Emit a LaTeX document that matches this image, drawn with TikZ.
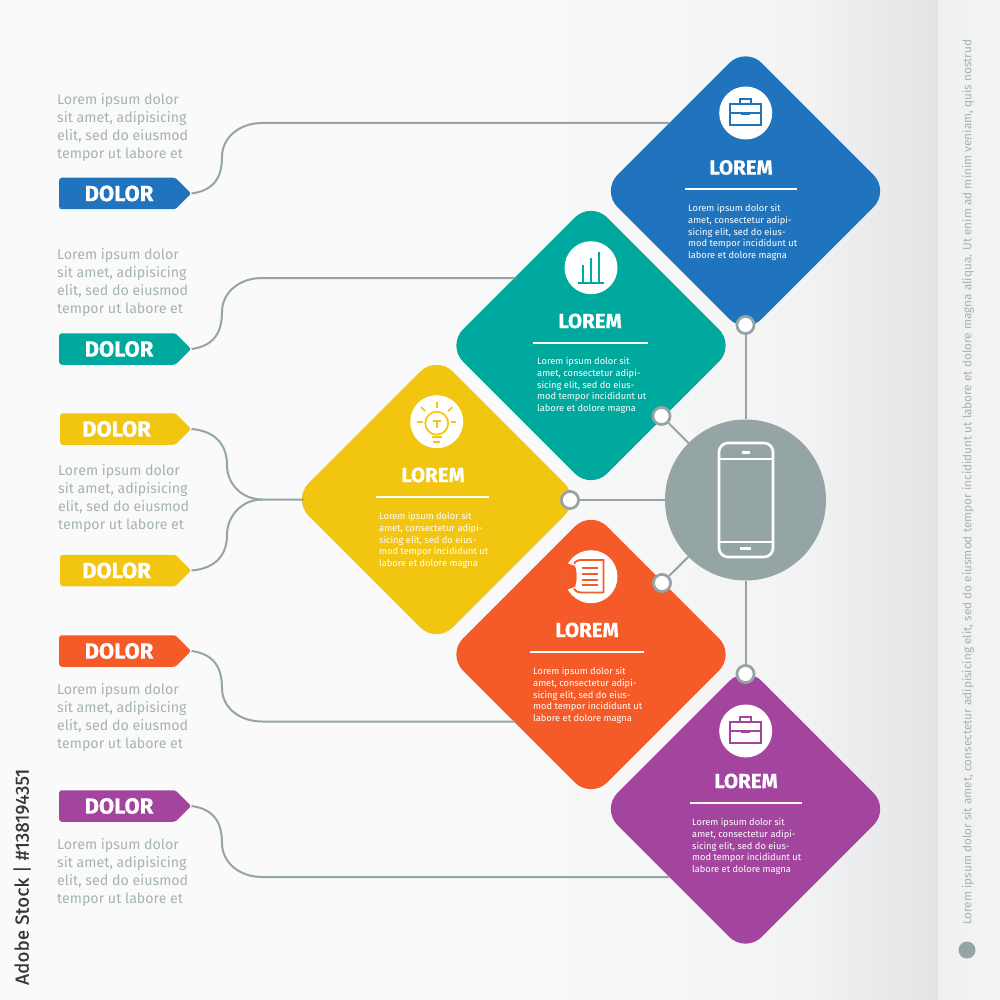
\documentclass[tikz,border=0pt]{standalone}
\usepackage{fontspec}
\setmainfont{Fira Sans}
\usetikzlibrary{shapes.geometric,shapes.symbols,calc}
\definecolor{cblue}{HTML}{1F74BD}
\definecolor{cteal}{HTML}{00A99D}
\definecolor{cyel}{HTML}{F2C511}
\definecolor{cora}{HTML}{F55B28}
\definecolor{cpur}{HTML}{A3459E}
\definecolor{cgray}{HTML}{95A5A5}
\definecolor{ctxt}{HTML}{A5B3B3}
\definecolor{bgA}{HTML}{FAFAFA}
\definecolor{bgM}{HTML}{F3F3F4}
\definecolor{bgB}{HTML}{E3E4E6}
\definecolor{stripA}{HTML}{EFF0F1}
\definecolor{stripB}{HTML}{F3F3F4}
\tikzset{
  dia/.style={diamond,aspect=1,minimum width=288.5pt,minimum height=288.5pt,inner sep=0pt,rounded corners=23pt,fill=#1},
  tagbox/.style={signal,signal to=east,signal from=nowhere,signal pointer angle=90,minimum height=31.5pt,minimum width=#1,inner sep=0pt,rounded corners=2.5pt,anchor=east},
  tagtext/.style={text=white,font=\fontsize{22}{22}\selectfont\bfseries\addfontfeature{FakeBold=0.8}},
  conn/.style={draw=cgray,line width=2pt},
  dot/.style={circle,draw=cgray,line width=2.6pt,fill=white,minimum size=17pt,inner sep=0pt},
  iconbg/.style={circle,fill=white,minimum size=53pt,inner sep=0pt},
  head/.style={text=white,font=\fontsize{20.5}{20.5}\selectfont\bfseries\addfontfeature{FakeBold=0.4}},
  rule/.style={draw=white,line width=1.6pt},
  body/.style={text=white,anchor=north west,inner sep=0pt,align=left,font=\fontsize{9.3}{11.6}\selectfont},
  side/.style={text=ctxt,anchor=north west,inner sep=0pt,align=left,font=\fontsize{14.2}{18}\selectfont},
  ico/.style={line width=2pt,line cap=butt},
}
\newcommand{\loremside}{Lorem ipsum dolor\\sit amet, adipisicing\\elit, sed do eiusmod\\tempor ut labore et}
\newcommand{\lorembody}{Lorem ipsum dolor sit\\amet, consectetur adipi-\\sicing elit, sed do eius-\\mod tempor incididunt ut\\labore et dolore magna}
\newcommand{\briefcase}[3]{%
  \begin{scope}[shift={(#1,#2)}]
    \draw[ico,draw=#3] (-15.5,-9) rectangle (15.5,12);
    \draw[ico,draw=#3] (-5.5,-9) -- (-5.5,-14) -- (5.5,-14) -- (5.5,-9);
    \draw[ico,draw=#3] (-15.5,0) -- (15.5,0);
    \draw[ico,draw=#3,line width=1.5pt] (-4,0) -- (-4,1.5) -- (4,1.5) -- (4,0);
  \end{scope}}
\begin{document}
\begin{tikzpicture}[x=1pt,y=-1pt]
\useasboundingbox (0,0) rectangle (1000,1000);
% background
\fill[bgA] (0,0) rectangle (500,1000);
\shade[left color=bgA,right color=bgM] (500,0) rectangle (800.5,1000);
\shade[left color=bgM,right color=bgB] (800,0) rectangle (938,1000);
\shade[left color=stripA,right color=stripB] (938,0) rectangle (1000,1000);

% diamonds
\node[dia=cblue] (blue) at (745.5,191) {};
\node[dia=cteal] (teal) at (591,345.5) {};
\node[dia=cyel] (yel) at (436.5,499.5) {};
\node[dia=cora] (ora) at (591,654.5) {};
\node[dia=cpur] (pur) at (745.5,809) {};

% tags
\node[tagbox=132pt,fill=cblue] (tagA) at (191.5,193.5) {};
\node[tagbox=132pt,fill=cteal] (tagB) at (191.5,349) {};
\node[tagbox=131pt,fill=cyel] (tagC) at (191.5,429) {};
\node[tagbox=131pt,fill=cyel] (tagD) at (191.5,570.5) {};
\node[tagbox=132pt,fill=cora] (tagE) at (191.5,651) {};
\node[tagbox=132pt,fill=cpur] (tagF) at (191.5,806) {};
\node[tagtext] (tagtA) at (119,193.5) {DOLOR};
\node[tagtext] (tagtB) at (119,349) {DOLOR};
\node[tagtext] (tagtC) at (116.5,429) {DOLOR};
\node[tagtext] (tagtD) at (116.5,570.5) {DOLOR};
\node[tagtext] (tagtE) at (119,651) {DOLOR};
\node[tagtext] (tagtF) at (119,806) {DOLOR};

% side texts
\node[side] (sA) at (57,93.5) {\loremside};
\node[side] (sB) at (57,248.5) {\loremside};
\node[side] (sC) at (58,464.5) {\loremside};
\node[side] (sE) at (57,683.5) {\loremside};
\node[side] (sF) at (57,838.5) {\loremside};

% hub
\node[circle,fill=cgray,minimum size=161pt,inner sep=0pt] (hub) at (745.5,500) {};
\node[dot] (d1) at (745.5,325) {};
\node[dot] (d2) at (661.5,416) {};
\node[dot] (d3) at (570,500) {};
\node[dot] (d4) at (662,583) {};
\node[dot] (d5) at (745.5,674) {};

% connectors
\begin{scope}[every path/.style={conn}]
\draw (d1) -- (hub);
\draw (d2) -- (hub);
\draw (d3) -- (hub);
\draw (d4) -- (hub);
\draw (d5) -- (hub);
\draw (tagA.east) .. controls +(22,-3) and (222,178) .. (222,157) .. controls (222,137) and (240,123) .. (262,123) -- ($(blue.center)+(-76,-68)$);
\draw (tagB.east) .. controls +(22,-3) and (222,333) .. (222,312) .. controls (222,292) and (240,278) .. (262,278) -- ($(teal.center)+(-76,-67.5)$);
\draw (tagE.east) .. controls +(22,3) and (222,667) .. (222,688) .. controls (222,708) and (240,721.5) .. (262,721.5) -- ($(ora.center)+(-76,67)$);
\draw (tagF.east) .. controls +(22,3) and (222,822) .. (222,843) .. controls (222,863) and (240,877) .. (262,877) -- ($(pur.center)+(-76,68)$);
\draw (tagC.east) .. controls +(24,2) and (227,445) .. (227,465) .. controls (227,485) and (243,499.5) .. (262,499.5) -- ($(yel.west)+(12,0)$);
\draw (tagD.east) .. controls +(24,-2) and (227,555) .. (227,535) .. controls (227,515) and (243,499.5) .. (262,499.5);
\end{scope}
\node[dot] at (d1) {};
\node[dot] at (d2) {};
\node[dot] at (d3) {};
\node[dot] at (d4) {};
\node[dot] at (d5) {};

% phone
\draw[white,line width=2.6pt,rounded corners=9pt] (719,443) rectangle (773,557);
\draw[white,line width=2.2pt] (719,459) -- (773,459);
\draw[white,line width=2.2pt] (719,542) -- (773,542);
\fill[white] (742,450.5) rectangle (749.5,453.5);
\fill[white] (740,546.5) rectangle (751,549.5);

% icons backgrounds
\node[iconbg] (iA) at (745.7,113) {};
\node[iconbg] (iB) at (591,267.7) {};
\node[iconbg] (iC) at (436.7,421.7) {};
\node[iconbg] (iD) at (591,576.7) {};
\node[iconbg] (iE) at (745.7,731) {};
\briefcase{745.7}{113}{cblue}
\briefcase{745.7}{731}{cpur}
% bars
\draw[cteal,line width=1.8pt] (577.7,282.7) -- (604.3,282.7);
\draw[cteal,line width=2pt] (582.7,282.7) -- (582.7,265);
\draw[cteal,line width=2pt] (591,282.7) -- (591,258);
\draw[cteal,line width=2pt] (599.3,282.7) -- (599.3,252);
% bulb
\begin{scope}[shift={(436.7,421.7)}]
\draw[cyel,line width=1.7pt] (0,1.5) circle (11.5);
\draw[cyel,line width=1.7pt] (-4,-1) -- (4,-1);
\draw[cyel,line width=1.7pt] (0,-1) -- (0,6);
\draw[cyel,line width=1.7pt] (-5,15.5) -- (5,15.5);
\draw[cyel,line width=1.7pt] (-3.5,20) -- (3.5,20);
\draw[cyel,line width=1.7pt] (0,-19.5) -- (0,-14);
\draw[cyel,line width=1.7pt] (-15.5,-14.5) -- (-11.5,-10.5);
\draw[cyel,line width=1.7pt] (15.5,-14.5) -- (11.5,-10.5);
\draw[cyel,line width=1.7pt] (-19.5,0.5) -- (-14,0.5);
\draw[cyel,line width=1.7pt] (19.5,0.5) -- (14,0.5);
\end{scope}
% document icon
\begin{scope}[shift={(591,576.7)}]
\begin{scope}
\clip (0,0) circle (27);
\fill[cora] (-24,-13.3) -- (-16,-11) .. controls (-14.8,-7) and (-14.3,-4) .. (-14.3,0) .. controls (-14.3,4) and (-14.8,7) .. (-16,10) -- (-24,13) -- (-28,13) -- (-28,-13.3) -- cycle;
\end{scope}
\draw[cora,line width=1.8pt] (-17,-13) .. controls (-15,-16) and (-13,-16.7) .. (-10.5,-16.7) -- (12.5,-16.7) -- (12.5,15.7) -- (-10.5,15.7) .. controls (-13,15.7) and (-15,15) .. (-17,12);
\foreach \yy in {-8.4,-2.7,3.1,8.3}{\draw[cora,line width=1.8pt] (-9.3,\yy) -- (6.7,\yy);}
\end{scope}

% card text
\node[head] (hA) at (741,167.5) {LOREM};
\draw[rule] (685,189.3) -- (797,189.3);
\node[body] (bA) at (688,204.5) {\lorembody};
\node[head] (hB) at (590,321) {LOREM};
\draw[rule] (533,342.7) -- (648,342.7);
\node[body] (bB) at (537,357.5) {\lorembody};
\node[head] (hC) at (433,475) {LOREM};
\draw[rule] (376,497) -- (489,497);
\node[body] (bC) at (379,512.5) {\lorembody};
\node[head] (hD) at (587,630) {LOREM};
\draw[rule] (530,652) -- (644,652);
\node[body] (bD) at (533,667.5) {\lorembody};
\node[head] (hE) at (746,781) {LOREM};
\draw[rule] (690,803) -- (802,803);
\node[body] (bE) at (692,818.5) {\lorembody};

% margins
\node[rotate=90,anchor=west,inner sep=0pt,text=ctxt,font=\fontsize{11.77}{11.77}\selectfont] (rt) at (968,925) {Lorem ipsum dolor sit amet, consectetur adipisicing elit, sed do eiusmod tempor incididunt ut labore et dolore magna aliqua. Ut enim ad minim veniam, quis nostrud};
\node[circle,fill=cgray,minimum size=17pt,inner sep=0pt] (rd) at (967,950) {};
\node[rotate=90,anchor=west,inner sep=0pt,text=black!78,font=\fontsize{19}{19}\selectfont\addfontfeature{FakeBold=0.6}] (stock) at (22,985) {Adobe Stock | \#138194351};
\end{tikzpicture}
\end{document}
